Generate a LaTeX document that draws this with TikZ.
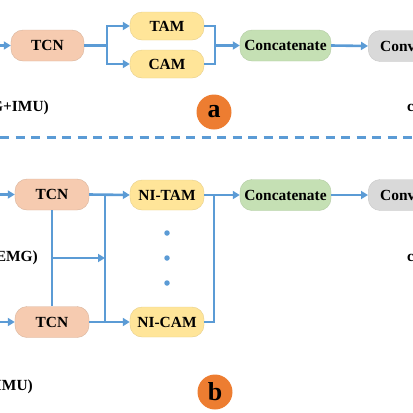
\documentclass[tikz,border=0pt]{standalone}
\usepackage{fontspec}
\setmainfont{Liberation Serif}
\usetikzlibrary{arrows.meta,calc}
\definecolor{lineblue}{RGB}{91,155,213}
\definecolor{tcnfill}{RGB}{246,203,176}
\definecolor{tamfill}{RGB}{255,229,153}
\definecolor{catfill}{RGB}{197,224,180}
\definecolor{convfill}{RGB}{217,217,217}
\definecolor{circfill}{RGB}{237,125,49}
\begin{document}
\begin{tikzpicture}[x=1bp,y=-1bp,
  box/.style={rounded corners=12bp, minimum height=31bp, inner sep=0pt,
    font=\fontsize{15.5}{17}\selectfont\bfseries},
  tcnbox/.style={box, fill=tcnfill, draw=tcnfill!88!black, minimum width=73bp},
  tambox/.style={box, fill=tamfill, draw=tamfill!90!black, minimum width=74bp},
  catbox/.style={box, fill=catfill, draw=catfill!90!black, minimum width=91bp},
  convbox/.style={box, fill=convfill, draw=convfill!92!black, anchor=west, text width=70bp, align=left, inner xsep=12bp},
  conn/.style={draw=lineblue, line width=2.6bp},
  arr/.style={conn, -{Triangle[length=7bp,width=8bp]}},
  lbl/.style={font=\fontsize{15.5}{17}\selectfont\bfseries, inner sep=0pt},
  circ/.style={circle, fill=circfill, minimum size=35bp, inner sep=0pt,
    font=\fontsize{26}{28}\selectfont\bfseries},
  vdot/.style={circle, fill=lineblue, minimum size=5.5bp, inner sep=0pt}
]
\useasboundingbox (0,0) rectangle (413,413);

% ---------- part a ----------
\coordinate (in1) at (0,45.5);
\node[tcnbox] (tcn1) at (47.5,45.5) {TCN};
\node[tambox, minimum height=28bp] (tam) at (167,26) {TAM};
\node[tambox, minimum height=28bp] (cam) at (167,64) {CAM};
\node[catbox] (cat1) at (285.5,45.5) {Concatenate};
\node[convbox] (conv1) at (368,46) {Conv};
\coordinate (br1) at (107,45.5);
\coordinate (j1) at (215,45.5);

\draw[arr] (in1) -- (tcn1.west);
\draw[conn] (tcn1.east) -- (br1);
\draw[arr] (br1) |- (tam.west);
\draw[arr] (br1) |- (cam.west);
\draw[conn] (tam.east) -| (j1) |- (cam.east);
\draw[arr] (j1) -- (cat1.west);
\draw[arr] (cat1.east) -- (conv1.west);

\node[lbl, anchor=east] (la) at (49,108) {(EMG+IMU)};
\node[circ] (ca) at (214,112) {a};
\node[lbl, anchor=west] (ra) at (407,108) {c};

% dashed separator
\coordinate (d1) at (0,137);
\coordinate (d2) at (413,137);
\draw[draw=lineblue, line width=3bp, dash pattern=on 9bp off 6.5bp] (d1) -- (d2);

% ---------- part b ----------
\coordinate (in2) at (0,194.5);
\coordinate (in3) at (0,322);
\node[tcnbox, minimum width=74bp] (tcn2) at (52,194.5) {TCN};
\node[tcnbox, minimum width=74bp] (tcn3) at (52,322) {TCN};
\node[tambox, minimum height=30bp] (nitam) at (167,195) {NI-TAM};
\node[tambox, minimum height=30bp] (nicam) at (167,322) {NI-CAM};
\node[catbox] (cat2) at (285.5,195) {Concatenate};
\node[convbox] (conv2) at (368,195) {Conv};
\coordinate (br2) at (105,194.5);
\coordinate (br3) at (105,322);
\coordinate (m1) at (52,258);
\coordinate (m2) at (105,258);
\coordinate (j2) at (214,195);

\draw[arr] (in2) -- (tcn2.west);
\draw[arr] (in3) -- (tcn3.west);
\draw[conn] (tcn2.south) -- (tcn3.north);
\draw[arr] (m1) -- (m2);
\draw[arr] (tcn2.east) -- (nitam.west);
\draw[arr] (tcn3.east) -- (nicam.west);
\draw[conn] (br2) -- (br3);
\draw[conn] (nicam.east) -| (j2);
\draw[arr] (nitam.east) -- (cat2.west);
\draw[arr] (cat2.east) -- (conv2.west);

\node[vdot] (v1) at (167,233) {};
\node[vdot] (v2) at (167,258) {};
\node[vdot] (v3) at (167,283) {};

\node[lbl, anchor=east] (lb1) at (38,258) {(EMG)};
\node[lbl, anchor=east] (lb2) at (33,387) {(IMU)};
\node[circ] (cb) at (215,392) {b};
\node[lbl, anchor=west] (rb) at (407,258) {c};
\end{tikzpicture}
\end{document}
